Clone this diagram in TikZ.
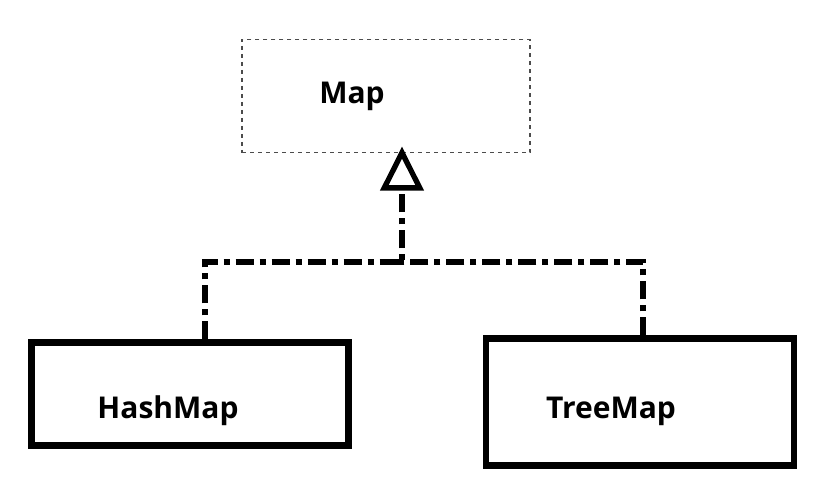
\documentclass[tikz,border=0pt]{standalone}
\usepackage{fontspec}
\setmainfont{Open Sans}
\usetikzlibrary{arrows.meta}
\begin{document}
\begin{tikzpicture}
		[x=0.75pt,y=-0.75pt,
		cls/.style={draw=black,line width=5pt,inner sep=0pt},
		iface/.style={draw=black!70,dashed,line width=0.8pt,inner sep=0pt},
		lbl/.style={font=\fontsize{22.5}{26}\selectfont\bfseries},
		real/.style={line width=5pt,dash pattern=on 14pt off 4pt on 5pt off 4pt,-{Triangle[open,length=33pt,width=32pt,line width=4pt]},shorten >=-5pt}]
		\useasboundingbox (0,0) rectangle (816,491);

		\node[iface,minimum width=216pt,minimum height=85pt] (map) at (386,96) {};
		\node[lbl] (maplbl) at (352,96) {Map};

		\node[cls,minimum width=238pt,minimum height=77pt] (hash) at (190,394) {};
		\node[lbl] (hashlbl) at (168,411) {HashMap};

		\node[cls,minimum width=231pt,minimum height=95pt] (tree) at (640,402) {};
		\node[lbl] (treelbl) at (611,411) {TreeMap};

		\coordinate (j) at (402,262);
		\draw[real] (hash.north -| 205,0) |- (j) -- (j |- map.south);
		\draw[real,-] (tree.north -| 643,0) |- (j);
	\end{tikzpicture}
\end{document}
